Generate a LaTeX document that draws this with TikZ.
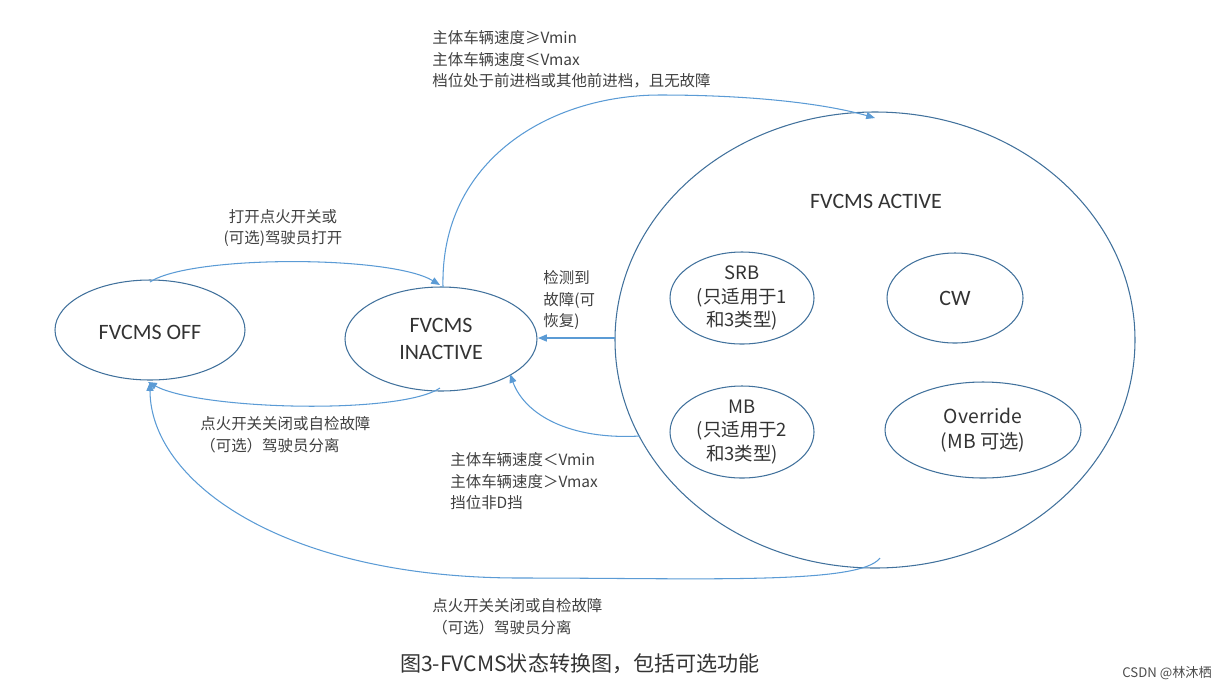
\documentclass[tikz,border=0pt]{standalone}
\usepackage{fontspec}
\setmainfont{Carlito}
\newfontfamily\cjk{Noto Sans CJK SC}
\usetikzlibrary{arrows.meta}
\definecolor{ln}{RGB}{91,155,213}
\definecolor{el}{RGB}{65,113,156}
\begin{document}
\begin{tikzpicture}[x=0.02cm,y=-0.02cm,
  tr/.style={draw=ln,line width=0.6pt,-{Triangle[length=5pt,width=4pt]}},
  lb/.style={font=\cjk\fontsize{8.8}{12.3}\selectfont,align=left,text=black!75,inner sep=0pt}]
\useasboundingbox (0,0) rectangle (1230,691);
\path[draw=el,line width=0.6pt] (875,340) ellipse [x radius=260,y radius=228];
\node (act) at (875,340) {};
\node[font=\fontsize{12.5}{14}\selectfont,text=black!80] at (876,201) {FVCMS ACTIVE};
\draw[draw=el,line width=0.6pt] (150,330) ellipse [x radius=95,y radius=50];
\node[font=\fontsize{12.5}{14}\selectfont,text=black!80] (off) at (150,332) {FVCMS OFF};
\draw[draw=el,line width=0.6pt] (441,339) ellipse [x radius=96,y radius=52];
\node[align=center,font=\fontsize{12.5}{15}\selectfont,text=black!80] (ina) at (441,339) {FVCMS\\INACTIVE};
\draw[draw=el,line width=0.6pt] (742,298) ellipse [x radius=72,y radius=46];
\node[align=center,font=\cjk\fontsize{10.5}{13.5}\selectfont,text=black!80] (srb) at (742,298) {SRB\\(只适用于1\\和3类型)};
\draw[draw=el,line width=0.6pt] (955,298) ellipse [x radius=68,y radius=45];
\node[font=\fontsize{12.5}{14}\selectfont,text=black!80] (cw) at (955,298) {CW};
\draw[draw=el,line width=0.6pt] (742,432) ellipse [x radius=72,y radius=46];
\node[align=center,font=\cjk\fontsize{10.5}{13.5}\selectfont,text=black!80] (mb) at (742,432) {MB\\(只适用于2\\和3类型)};
\draw[draw=el,line width=0.6pt] (983,430) ellipse [x radius=98,y radius=48];
\node[align=center,font=\cjk\fontsize{11}{14}\selectfont,text=black!80] (ov) at (983,430) {Override\\(MB 可选)};
\coordinate (a1) at (443,287);
\coordinate (a2) at (875,118);
\draw[tr] (a1) .. controls (440,160) and (550,95) .. (660,95) .. controls (760,95) and (830,105) .. (a2);
\draw[tr] (150,282) .. controls (190,255) and (390,255) .. (440,285);
\draw[tr] (440,388) .. controls (400,415) and (200,410) .. (148,382);
\draw[tr] (615,338) -- (538,338);
\draw[tr] (640,436) .. controls (570,440) and (525,415) .. (510,374);
\draw[tr] (880,558) .. controls (860,585) and (700,578) .. (520,578) .. controls (280,578) and (150,480) .. (150,382);
\node[lb,anchor=north west] at (432,30) {主体车辆速度≥Vmin\\主体车辆速度≤Vmax\\档位处于前进档或其他前进档，且无故障};
\node[lb,align=center] at (283,228) {打开点火开关或\\(可选)驾驶员打开};
\node[lb,anchor=north west] at (543,270) {检测到\\故障(可\\恢复)};
\node[lb,anchor=north west] at (200,416) {点火开关关闭或自检故障\\（可选）驾驶员分离};
\node[lb,anchor=north west] at (450,452) {主体车辆速度＜Vmin\\主体车辆速度＞Vmax\\挡位非D挡};
\node[lb,anchor=north west] at (432,598) {点火开关关闭或自检故障\\（可选）驾驶员分离};
\node[font=\cjk\fontsize{12}{14}\selectfont,text=black!80] at (580,664) {图3-FVCMS状态转换图，包括可选功能};
\node[font=\cjk\fontsize{7.5}{9}\selectfont,text=black!70,anchor=east] at (1218,673) {CSDN @林沐栖};
\end{tikzpicture}
\end{document}
